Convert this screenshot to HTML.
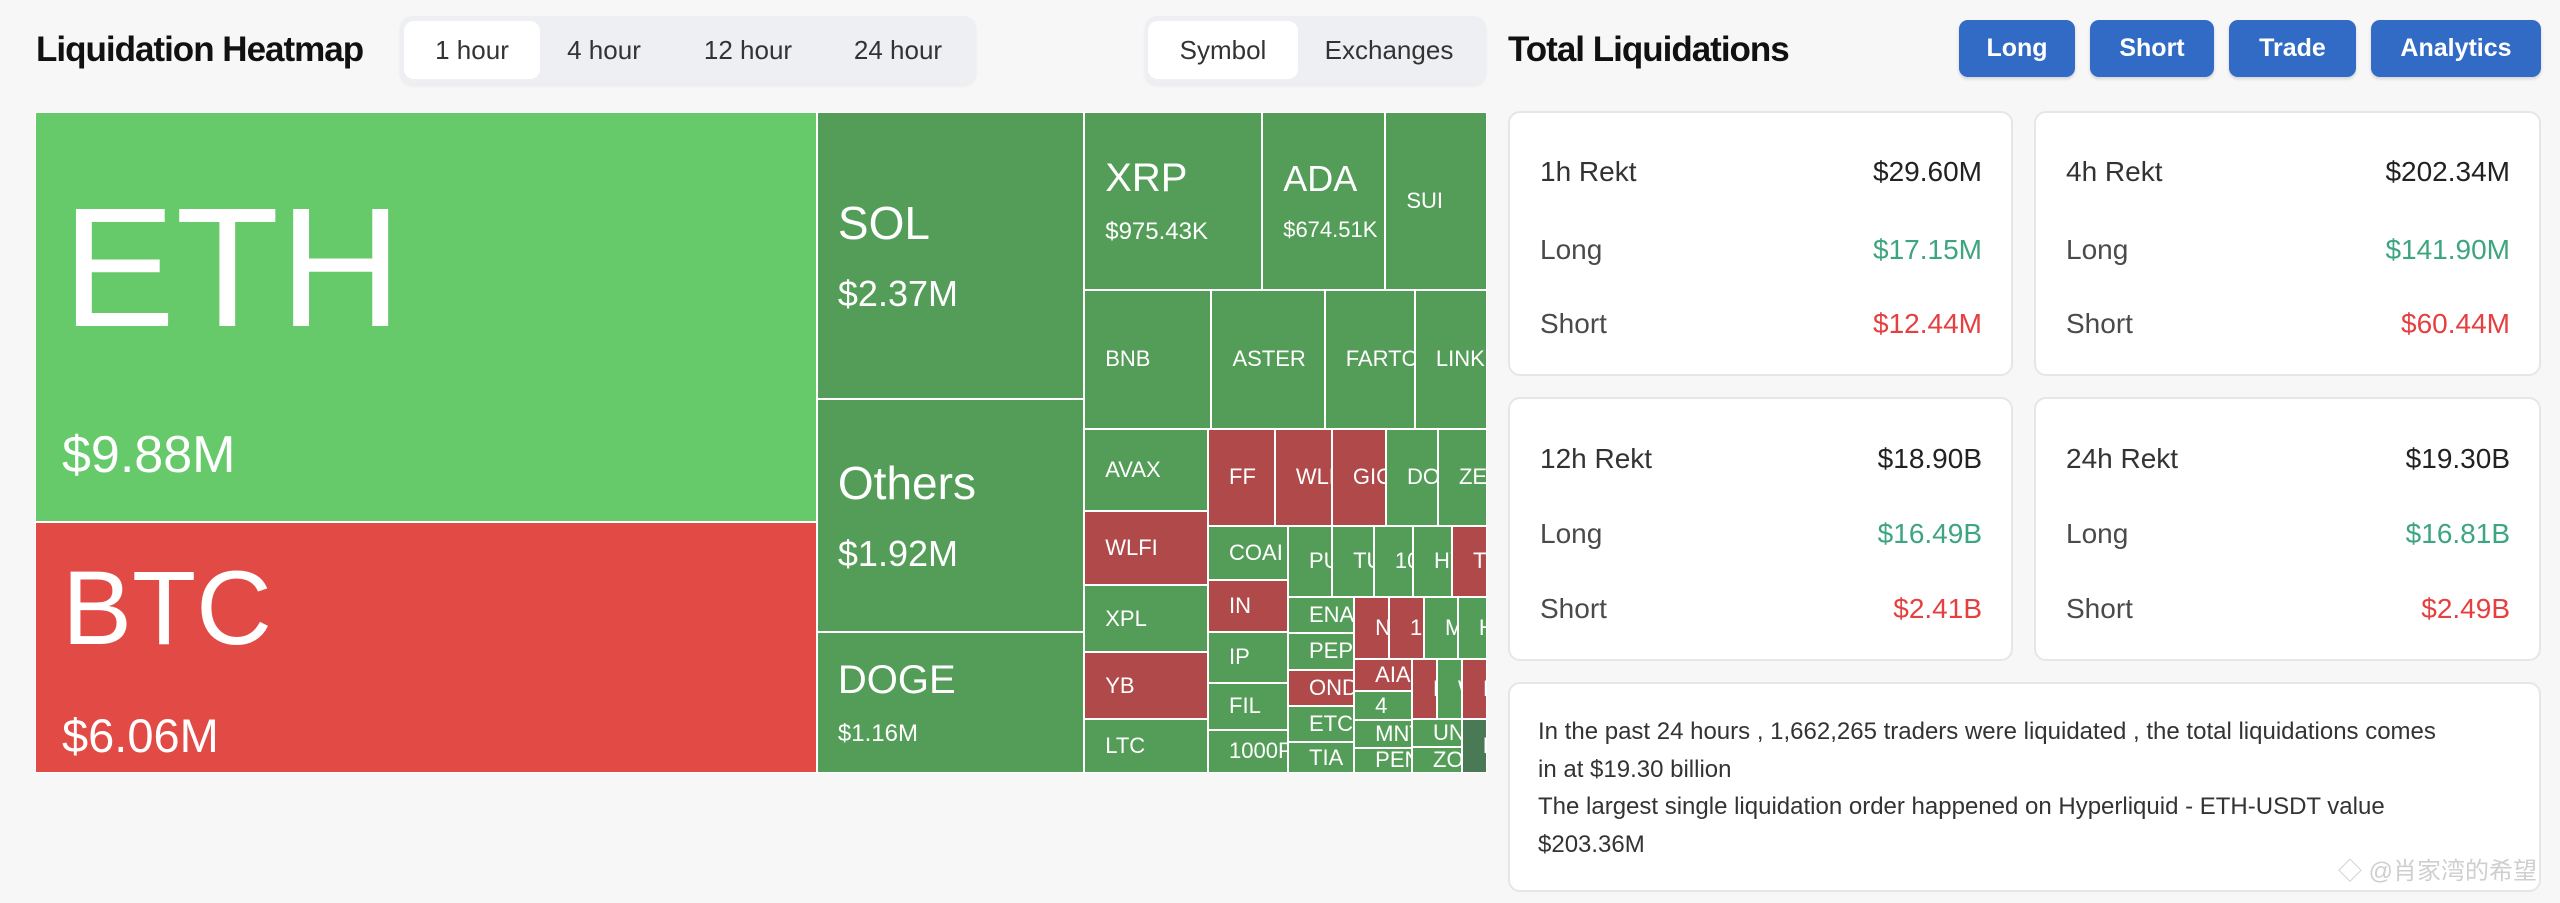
<!DOCTYPE html>
<html><head><meta charset="utf-8">
<style>
*{box-sizing:border-box;margin:0;padding:0}
body{width:2560px;height:903px;background:#f7f7f8;font-family:"Liberation Sans","Noto Sans CJK SC",sans-serif;position:relative;overflow:hidden;color:#222}
.abs{position:absolute}
.title{font-weight:bold;font-size:35px;letter-spacing:-1px;color:#111}
.seg{background:#eeeff2;border-radius:12px;box-shadow:0 2px 3px rgba(0,0,0,.06)}
.tab{position:absolute;top:0;height:100%;display:flex;align-items:center;justify-content:center;font-size:26px;color:#333}
.tab.on{background:#fff;border-radius:10px;top:5px;height:calc(100% - 10px)}
.btn{position:absolute;top:20px;height:57px;background:#316bc6;color:#fff;font-weight:bold;font-size:25px;border-radius:9px;display:flex;align-items:center;justify-content:center;box-shadow:0 2px 3px rgba(0,0,0,.15)}
.card{position:absolute;background:#fff;border:2px solid #e6e6e6;border-radius:12px}
.row{position:absolute;left:30px;right:29px;display:flex;justify-content:space-between;font-size:28px;color:#4a4a4a;line-height:1}
.row .v{color:#222}
.g{color:#3da57f!important}.r{color:#e5403f!important}
.hd{color:#333;font-weight:500}
.cell{position:absolute;overflow:hidden;color:#fff;display:flex;flex-direction:column;justify-content:center;white-space:nowrap;border:1px solid #fff}
</style></head><body>
<div class="abs title" style="left:36px;top:30px">Liquidation Heatmap</div>
<div class="abs seg" style="left:400px;top:16px;width:576px;height:68px">
 <div class="tab on" style="left:4px;width:136px">1 hour</div>
 <div class="tab" style="left:144px;width:120px">4 hour</div>
 <div class="tab" style="left:284px;width:128px">12 hour</div>
 <div class="tab" style="left:436px;width:124px">24 hour</div>
</div>
<div class="abs seg" style="left:1145px;top:16px;width:341px;height:68px">
 <div class="tab on" style="left:3px;width:150px">Symbol</div>
 <div class="tab" style="left:170px;width:148px">Exchanges</div>
</div>
<div id="tm" class="abs" style="left:35px;top:112px;width:1452px;height:661px"></div>

<div class="abs title" style="left:1508px;top:30px">Total Liquidations</div>
<div class="btn" style="left:1959px;width:116px">Long</div>
<div class="btn" style="left:2090px;width:124px">Short</div>
<div class="btn" style="left:2229px;width:127px">Trade</div>
<div class="btn" style="left:2371px;width:170px">Analytics</div>

<div class="card" style="left:1508px;top:111px;width:505px;height:265px">
 <div class="row" style="top:45px"><span class="hd">1h Rekt</span><span class="v">$29.60M</span></div>
 <div class="row" style="top:123px"><span>Long</span><span class="v g">$17.15M</span></div>
 <div class="row" style="top:197px"><span>Short</span><span class="v r">$12.44M</span></div>
</div>
<div class="card" style="left:2034px;top:111px;width:507px;height:265px">
 <div class="row" style="top:45px"><span class="hd">4h Rekt</span><span class="v">$202.34M</span></div>
 <div class="row" style="top:123px"><span>Long</span><span class="v g">$141.90M</span></div>
 <div class="row" style="top:197px"><span>Short</span><span class="v r">$60.44M</span></div>
</div>
<div class="card" style="left:1508px;top:397px;width:505px;height:264px">
 <div class="row" style="top:46px"><span class="hd">12h Rekt</span><span class="v">$18.90B</span></div>
 <div class="row" style="top:121px"><span>Long</span><span class="v g">$16.49B</span></div>
 <div class="row" style="top:196px"><span>Short</span><span class="v r">$2.41B</span></div>
</div>
<div class="card" style="left:2034px;top:397px;width:507px;height:264px">
 <div class="row" style="top:46px"><span class="hd">24h Rekt</span><span class="v">$19.30B</span></div>
 <div class="row" style="top:121px"><span>Long</span><span class="v g">$16.81B</span></div>
 <div class="row" style="top:196px"><span>Short</span><span class="v r">$2.49B</span></div>
</div>
<div class="card" style="left:1508px;top:682px;width:1033px;height:210px">
 <div class="abs" style="left:28px;top:29px;font-size:24px;line-height:37.5px;color:#333">In the past 24 hours , 1,662,265 traders were liquidated , the total liquidations comes<br>in at $19.30 billion<br>The largest single liquidation order happened on Hyperliquid - ETH-USDT value<br>$203.36M</div>
 <div class="abs" style="right:2px;bottom:4px;font-size:24px;color:#cfcfcf">◇ @肖家湾的希望</div>
</div>

<script>
const names=["ETH","BTC","SOL","Others","DOGE","XRP","ADA","SUI","BNB","ASTER","FARTCOIN","LINK","AVAX","WLFI","XPL","YB","LTC","FF","WLD","GIGGLE","DOT","ZEC","COAI","IN","IP","FIL","1000PEPE","PUMP","TURBO","1000BONK","HYPE","TIA","ENA","PEPE","ONDO","ETC","TIA","NEAR","1000SHIB","MYX","HBAR","AIA","4","MNT","PENGU","ENA","WIF","BIO","UNI","ZORA","DASH"];
const values=[9.88,6.06,2.37,1.92,1.16,0.975,0.6745,0.557,0.547,0.487,0.388,0.310,0.311,0.284,0.257,0.254,0.207,0.199,0.170,0.161,0.155,0.146,0.134,0.129,0.124,0.116,0.107,0.097,0.092,0.086,0.086,0.077,0.074,0.074,0.074,0.074,0.063,0.067,0.067,0.065,0.056,0.057,0.052,0.049,0.045,0.046,0.046,0.046,0.043,0.040,0.042];
const sides=["long+","short+","long","long","long","long","long","long","long","long","long","long","long","short","long","short","long","short","short","short","long","long","long","short","long","long","long","long","long","long","long","short","long","long","short","long","long","short","short","long","long","short","long","long","long","short","long","short","long","long","dark"];
const valueLabels=["$9.88M","$6.06M","$2.37M","$1.92M","$1.16M","$975.43K","$674.51K"];
const layout=['h',['v',0,1],['v',2,3,4],['v',['h',5,6,7],['h',8,9,10,11],['h',['v',12,13,14,15,16],['v',['h',17,18,19,20,21],['h',['v',22,23,24,25,26],['v',['h',27,28,29,30,31],['h',['v',32,33,34,35,36],['v',['h',37,38,39,40],['h',['v',41,42,43,44],['v',['h',45,46,47],['h',['v',48,49],50]]]]]]]]]]];
const colors={"long+":"#66c96a","short+":"#e24a45","long":"#549d58","short":"#b04a4a","dark":"#4a7a55"};
const tm=document.getElementById('tm');
function sum(n){return typeof n==='number'?values[n]:n.slice(1).reduce((a,c)=>a+sum(c),0);}
function lay(n,x,y,w,h){
  if(typeof n==='number'){draw(n,x,y,w,h);return;}
  const dir=n[0],kids=n.slice(1),tot=sum(n);let off=0;
  kids.forEach(k=>{const f=sum(k)/tot;
    if(dir==='h'){lay(k,x+off,y,w*f,h);off+=w*f;}else{lay(k,x,y+off,w,h*f);off+=h*f;}});
}
function tier(v){return v>=8?[170,52,76,30]:v>=5?[105,47,51,21]:v>=1.5?[46,36,30,0]:v>=0.9?[40,24,22,0]:v>=0.6?[36,22,22,0]:[22,0,0,0];}
function draw(i,x,y,w,h){
  const d=document.createElement('div');
  d.className='cell';
  
  
  const t=tier(values[i]);
  d.style.cssText+=`left:${x}px;top:${y}px;width:${w}px;height:${h}px;background:${colors[sides[i]]};padding-left:${t[0]>100?26:20}px;padding-top:${t[3]}px`;
  const nm=document.createElement('div');
  
  
  nm.style.cssText=`font-size:${t[0]}px;line-height:1`;
  nm.textContent=names[i];d.appendChild(nm);
  if(i<valueLabels.length){
    const vl=document.createElement('div');
    
    
    vl.style.cssText=`font-size:${t[1]}px;line-height:1;margin-top:${t[2]}px`;
    vl.textContent=valueLabels[i];d.appendChild(vl);
  }
  tm.appendChild(d);
}
lay(layout,0,0,1452,661);
</script>
</body></html>
